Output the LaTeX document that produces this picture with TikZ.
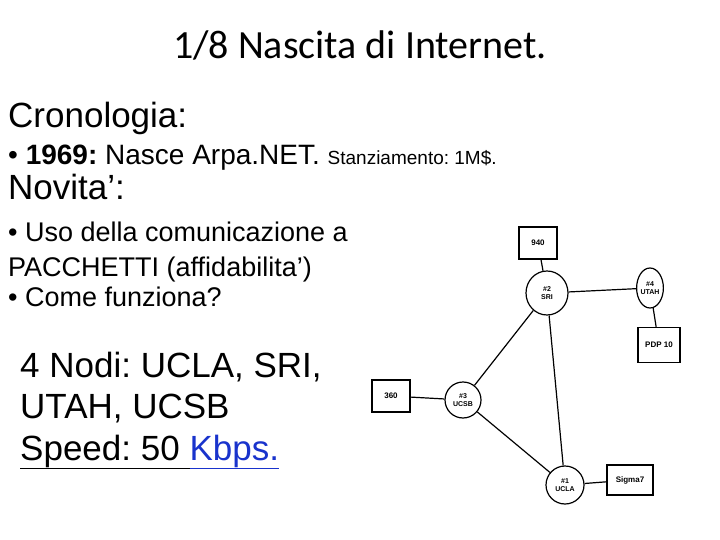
\documentclass[tikz,border=0pt]{standalone}
\usepackage{fontspec}
\usetikzlibrary{shapes.geometric}
\setmainfont{Liberation Sans}
\newfontfamily\titlefont{Carlito}
\frenchspacing
\begin{document}
\begin{tikzpicture}[x=1pt,y=-1pt,
 txt/.style={anchor=base west,inner sep=0pt},
 box/.style={draw,line width=1.2pt,minimum width=38pt,minimum height=32pt,font=\fontsize{8}{9}\selectfont\bfseries},
 hub/.style={draw,ellipse,line width=1.2pt,inner sep=0pt,align=center,font=\fontsize{7}{8}\selectfont\bfseries},
 link/.style={line width=1.2pt}]
\useasboundingbox (0,0) rectangle (720,540);
\node[inner sep=0pt] (title) at (360,45) {\titlefont\fontsize{40}{46}\selectfont 1/8 Nascita di Internet.};
\node[txt] (c) at (8,128) {\fontsize{35}{40}\selectfont Cronologia:};
\node[txt] (d) at (8,165) {\fontsize{28}{32}\selectfont • \textbf{1969:} Nasce Arpa.NET. {\fontsize{19}{22}\selectfont Stanziamento: 1M\$.}};
\node[txt] (n) at (8,200) {\fontsize{35}{40}\selectfont Novita’:};
\node[txt] (b1) at (8,241) {\fontsize{27}{31}\selectfont • Uso della comunicazione a};
\node[txt] (b2) at (8,276) {\fontsize{27}{31}\selectfont PACCHETTI (affidabilita’)};
\node[txt] (b3) at (8,306) {\fontsize{27}{31}\selectfont • Come funziona?};
\node[txt] (s1) at (20,377) {\fontsize{35}{40}\selectfont 4 Nodi: UCLA, SRI,};
\node[txt] (s2) at (20,418) {\fontsize{35}{40}\selectfont UTAH, UCSB};
\node[txt] (s3) at (20,460) {\fontsize{35}{40}\selectfont \underline{Speed: 50 }\textcolor[rgb]{0.1,0.2,0.8}{\underline{Kbps.}}};
% network
\node[box] (b940) at (538,243) {940};
\node[hub,minimum width=42pt,minimum height=44pt] (sri) at (547,293) {\#2\\SRI};
\node[hub,minimum width=26pt,minimum height=40pt] (utah) at (650,288) {\#4\\UTAH};
\node[box,minimum width=42pt,minimum height=35pt] (pdp) at (659,345) {PDP 10};
\node[box] (b360) at (391,396) {360};
\node[hub,minimum width=36pt,minimum height=36pt] (ucsb) at (463,400) {\#3\\UCSB};
\node[hub,minimum width=38pt,minimum height=38pt] (ucla) at (565,485) {\#1\\UCLA};
\node[box,minimum width=46pt,minimum height=30pt] (sig) at (630,480) {Sigma7};
\draw[link] (b940) -- (sri);
\draw[link] (sri) -- (utah);
\draw[link] (utah) -- (pdp);
\draw[link] (sri) -- (ucsb);
\draw[link] (sri) -- (ucla);
\draw[link] (b360) -- (ucsb);
\draw[link] (ucsb) -- (ucla);
\draw[link] (ucla) -- (sig);
\end{tikzpicture}
\end{document}
